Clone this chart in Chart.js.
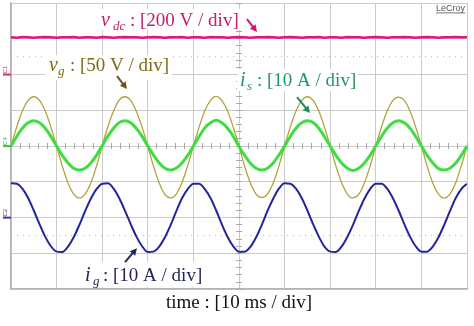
<!DOCTYPE html>
<html><head><meta charset="utf-8">
<script src="https://cdn.jsdelivr.net/npm/chart.js@4"></script>
<style>html,body{margin:0;padding:0;background:#fff}canvas{display:block}</style>
</head><body>
<canvas id="c" width="474" height="326"></canvas>
<script>
// time axis, ms (10 ms / div)
const times = [0,1.25,2.5,3.75,5,6.25,7.5,8.75,10,11.25,12.5,13.75,15,16.25,17.5,18.75,
20,21.25,22.5,23.75,25,26.25,27.5,28.75,30,31.25,32.5,33.75,35,36.25,37.5,38.75,
40,41.25,42.5,43.75,45,46.25,47.5,48.75,50,51.25,52.5,53.75,55,56.25,57.5,58.75,
60,61.25,62.5,63.75,65,66.25,67.5,68.75,70,71.25,72.5,73.75,75,76.25,77.5,78.75,
80,81.25,82.5,83.75,85,86.25,87.5,88.75,90,91.25,92.5,93.75,95,96.25,97.5,98.75,100];

// screen divisions (0 = centre line)
const vdc = [3.04,3.03,3.05,3.04,3.03,3.04,3.05,3.04,3.03,3.04,3.04,3.05,3.03,3.04,3.04,3.03,
3.05,3.04,3.03,3.04,3.05,3.04,3.04,3.03,3.04,3.05,3.04,3.03,3.04,3.04,3.05,3.03,
3.04,3.04,3.03,3.05,3.04,3.04,3.03,3.04,3.05,3.04,3.03,3.04,3.04,3.05,3.04,3.03,
3.04,3.05,3.04,3.03,3.04,3.04,3.05,3.03,3.04,3.04,3.03,3.05,3.04,3.04,3.03,3.04,
3.05,3.04,3.03,3.04,3.04,3.05,3.04,3.03,3.04,3.05,3.04,3.03,3.04,3.04,3.05,3.04,3.04];

const vg = [0,0.53,0.98,1.28,1.38,1.28,0.98,0.53,0,-0.56,-1.03,-1.34,-1.45,-1.34,-1.03,-0.56,
0.01,0.54,0.98,1.29,1.38,1.28,0.97,0.53,-0.01,-0.56,-1.03,-1.35,-1.45,-1.34,-1.02,-0.55,
0,0.53,0.99,1.28,1.39,1.27,0.98,0.52,0,-0.57,-1.03,-1.34,-1.44,-1.34,-1.03,-0.56,
0.01,0.53,0.98,1.28,1.38,1.28,0.98,0.53,0,-0.56,-1.02,-1.34,-1.45,-1.35,-1.03,-0.56,
0,0.54,0.98,1.28,1.37,1.28,0.98,0.53,0.01,-0.56,-1.03,-1.34,-1.45,-1.34,-1.03,-0.55,0];

const iS = [0,0.27,0.50,0.65,0.71,0.65,0.50,0.27,0,-0.26,-0.47,-0.62,-0.67,-0.62,-0.47,-0.26,
0.01,0.28,0.50,0.66,0.71,0.65,0.49,0.27,0,-0.25,-0.47,-0.62,-0.67,-0.61,-0.47,-0.26,
0,0.27,0.51,0.65,0.72,0.65,0.50,0.27,-0.01,-0.26,-0.48,-0.62,-0.67,-0.62,-0.47,-0.25,
0,0.27,0.50,0.65,0.71,0.66,0.50,0.26,0,-0.26,-0.47,-0.62,-0.68,-0.62,-0.47,-0.26,
0.01,0.27,0.50,0.65,0.71,0.65,0.50,0.27,0,-0.26,-0.47,-0.63,-0.67,-0.62,-0.48,-0.26,0];

const ig = [-1.04,-1.05,-1.19,-1.45,-1.80,-2.18,-2.53,-2.80,-2.95,-2.96,-2.81,-2.55,-2.20,-1.82,-1.47,-1.20,
-1.05,-1.04,-1.19,-1.46,-1.81,-2.18,-2.53,-2.80,-2.96,-2.95,-2.81,-2.55,-2.21,-1.82,-1.46,-1.20,
-1.05,-1.05,-1.20,-1.45,-1.80,-2.19,-2.54,-2.80,-2.95,-2.95,-2.82,-2.55,-2.20,-1.81,-1.47,-1.19,
-1.04,-1.05,-1.19,-1.45,-1.80,-2.18,-2.53,-2.81,-2.95,-2.96,-2.81,-2.54,-2.20,-1.82,-1.47,-1.20,
-1.05,-1.05,-1.19,-1.46,-1.80,-2.18,-2.53,-2.80,-2.95,-2.95,-2.81,-2.55,-2.20,-1.82,-1.46,-1.20,-1.05];

const dottedLevels = [2.5, -2.5];
const timeRange = [0, 100];
const divRange = [-4, 4];

const pts = arr => times.map((t, i) => ({x: t, y: arr[i]}));
const hline = lvl => timeRange.map(t => ({x: t, y: lvl}));

const SERIF = '"Liberation Serif", "Times New Roman", serif';

const labels = [
  {t: 19.74, d: 3.357, main: 'v', sub: 'dc', rest: ': [200 V / div]', color: '#c41c6e', subDx: 12, restDx: 29, box: [-4, -17, 146, 21]},
  {t: 8.33,  d: 2.098, main: 'v', sub: 'g',  rest: ': [50 V / div]',  color: '#7d6a12', subDx: 9,  restDx: 21, box: [-4, -16, 127, 25]},
  {t: 50.22, d: 1.678, main: 'i', sub: 's',  rest: ': [10 A / div]',  color: '#1f9a5c', subDx: 7,  restDx: 17, box: [-3, -17, 121, 22]},
  {t: 16.23, d: -3.776, main: 'i', sub: 'g', rest: ': [10 A / div]',  color: '#1f2451', subDx: 8,  restDx: 18, box: [-3, -19, 123, 25]}
];
const arrows = [
  {t0: 51.75, d0: 3.552, t1: 53.95, d1: 3.189, color: '#d0176f'},
  {t0: 23.25, d0: 1.958, t1: 25.44, d1: 1.594, color: '#6e5514'},
  {t0: 62.72, d0: 1.371, t1: 65.57, d1: 0.923, color: '#1c8c55'},
  {t0: 25.0,  d0: -3.245, t1: 27.63, d1: -2.853, color: '#1d2a60'}
];
const markers = [
  {d: 2, text: 'C1', color: '#d0307a'},
  {d: 0, text: 'C4', color: '#3bbf3b'},
  {d: -2, text: 'C2', color: '#3a3aa0'}
];

const annot = {
  id: 'annot',
  afterDatasetsDraw(chart) {
    const ctx = chart.ctx, xs = chart.scales.x, ys = chart.scales.y;
    ctx.save();
    // labels
    labels.forEach(L => {
      const x = xs.getPixelForValue(L.t), y = ys.getPixelForValue(L.d);
      ctx.fillStyle = '#fff';
      ctx.fillRect(x + L.box[0], y + L.box[1], L.box[2], L.box[3]);
      ctx.fillStyle = L.color;
      ctx.textAlign = 'left'; ctx.textBaseline = 'alphabetic';
      ctx.font = 'italic 20px ' + SERIF; ctx.fillText(L.main, x, y);
      ctx.font = 'italic 13px ' + SERIF; ctx.fillText(L.sub, x + L.subDx, y + 4);
      ctx.font = '19px ' + SERIF; ctx.fillText(L.rest, x + L.restDx, y);
    });
    // arrows
    arrows.forEach(A => {
      const x0 = xs.getPixelForValue(A.t0), y0 = ys.getPixelForValue(A.d0);
      const x1 = xs.getPixelForValue(A.t1), y1 = ys.getPixelForValue(A.d1);
      const ang = Math.atan2(y1 - y0, x1 - x0), hl = 7, hw = 3.6;
      ctx.strokeStyle = A.color; ctx.fillStyle = A.color; ctx.lineWidth = 2;
      ctx.beginPath(); ctx.moveTo(x0, y0);
      ctx.lineTo(x1 - Math.cos(ang) * hl * 0.8, y1 - Math.sin(ang) * hl * 0.8); ctx.stroke();
      ctx.beginPath(); ctx.moveTo(x1, y1);
      ctx.lineTo(x1 - Math.cos(ang) * hl - Math.sin(ang) * hw, y1 - Math.sin(ang) * hl + Math.cos(ang) * hw);
      ctx.lineTo(x1 - Math.cos(ang) * hl + Math.sin(ang) * hw, y1 - Math.sin(ang) * hl - Math.cos(ang) * hw);
      ctx.closePath(); ctx.fill();
    });
    // LeCroy
    const ca = chart.chartArea;
    ctx.font = '9px "Liberation Sans", Arial, sans-serif';
    ctx.fillStyle = '#555'; ctx.textAlign = 'right';
    ctx.fillText('LeCroy', ca.right - 2, ca.top + 8);
    const w = ctx.measureText('LeCroy').width;
    ctx.fillRect(ca.right - 2 - w, ca.top + 9.5, w, 0.8);
    // channel markers
    markers.forEach(M => {
      const y = ys.getPixelForValue(M.d);
      ctx.fillStyle = M.color;
      ctx.fillRect(ca.left - 8, y - 1, 8, 2);
      ctx.save();
      ctx.translate(ca.left - 6, y - 5);
      ctx.rotate(-Math.PI / 2);
      ctx.font = '6px "Liberation Sans", Arial, sans-serif';
      ctx.textAlign = 'center'; ctx.textBaseline = 'middle';
      ctx.fillText(M.text, 0, 0);
      ctx.restore();
    });
    ctx.restore();
  }
};

const GRID = '#cbcbcb', FRAME = '#b3b3b3';
const line = (data, color, width, extra) => Object.assign({
  data, borderColor: color, borderWidth: width, pointRadius: 0,
  cubicInterpolationMode: 'monotone', fill: false
}, extra || {});

new Chart(document.getElementById('c'), {
  type: 'line',
  data: {
    datasets: [
      line(pts(iS), '#3fdc44', 3),
      line(pts(vg), '#b3a33a', 1.3),
      line(pts(ig), '#24249e', 2),
      line(pts(vdc), '#e0157d', 2.5, {cubicInterpolationMode: 'default', tension: 0}),
      ...dottedLevels.map(l => line(hline(l), '#b5b5b5', 1, {borderDash: [1, 5], tension: 0}))
    ]
  },
  plugins: [annot],
  options: {
    responsive: false, animation: false, devicePixelRatio: 1,
    layout: {padding: {left: 11, right: 7, top: 3, bottom: 12}},
    plugins: {legend: {display: false}, tooltip: {enabled: false}},
    scales: {
      x: {type: 'linear', min: timeRange[0], max: timeRange[1],
          ticks: {stepSize: 10, display: false},
          grid: {color: GRID, drawTicks: false},
          border: {color: FRAME, width: 1.5},
          title: {display: true, text: 'time : [10 ms / div]', color: '#111',
                  font: {family: SERIF, size: 19}, padding: {top: 2, bottom: 0}}},
      y: {type: 'linear', min: divRange[0], max: divRange[1],
          ticks: {stepSize: 1, display: false},
          grid: {color: GRID, drawTicks: false},
          border: {color: FRAME, width: 1.5}},
      xc1: {type: 'linear', axis: 'x', position: {y: 0}, min: timeRange[0], max: timeRange[1],
          ticks: {stepSize: 2, display: false},
          grid: {drawOnChartArea: false, drawTicks: true, tickLength: 3, color: '#a8a8a8'},
          border: {display: false}},
      xc2: {type: 'linear', axis: 'x', position: {y: 0}, min: timeRange[0], max: timeRange[1],
          ticks: {stepSize: 2, display: false},
          grid: {drawOnChartArea: false, drawTicks: true, tickLength: -3, color: '#a8a8a8'},
          border: {display: false}},
      yc1: {type: 'linear', axis: 'y', position: {x: 50}, min: divRange[0], max: divRange[1],
          ticks: {stepSize: 0.2, display: false},
          grid: {drawOnChartArea: false, drawTicks: true, tickLength: 3, color: '#a8a8a8'},
          border: {display: false}},
      yc2: {type: 'linear', axis: 'y', position: {x: 50}, min: divRange[0], max: divRange[1],
          ticks: {stepSize: 0.2, display: false},
          grid: {drawOnChartArea: false, drawTicks: true, tickLength: -3, color: '#a8a8a8'},
          border: {display: false}}
    }
  }
});
</script>
</body></html>
